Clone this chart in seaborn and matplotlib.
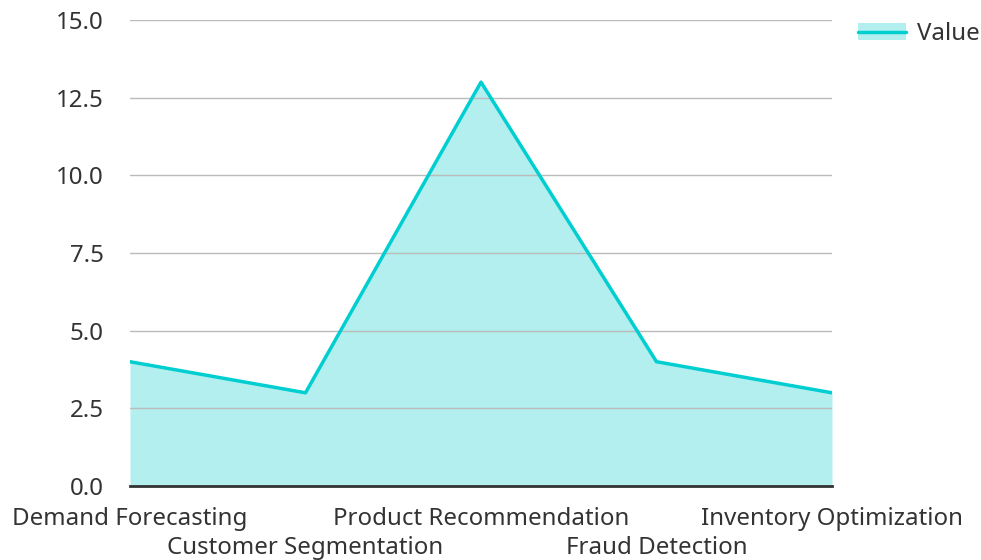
import matplotlib.pyplot as plt
import matplotlib.patches as mpatches
import matplotlib.lines as mlines
import seaborn as sns
import pandas as pd

categories = ['Demand Forecasting', 'Customer Segmentation', 'Product Recommendation',
              'Fraud Detection', 'Inventory Optimization']
values = [4, 3, 13, 4, 3]
yticks = [0, 2.5, 5, 7.5, 10, 12.5, 15]

sns.set_style('white')
plt.rcParams['font.family'] = ['Noto Sans', 'DejaVu Sans']
plt.rcParams['text.color'] = '#333333'

line_color = '#00CED1'
fill_color = '#B2EFEE'
fs = 17.3

df = pd.DataFrame({'x': range(len(categories)), 'Value': values})

fig = plt.figure(figsize=(9.81, 5.6), dpi=100)
ax = fig.add_axes([130 / 981, (560 - 486) / 560, (832 - 130) / 981, (486 - 20) / 560])

ax.fill_between(df['x'], df['Value'], color=fill_color, lw=0, zorder=1)
sns.lineplot(data=df, x='x', y='Value', ax=ax, color=line_color, lw=2.5, zorder=3)

ax.set_xlim(0, len(categories) - 1)
ax.set_ylim(0, 15)
ax.set_yticks(yticks)
ax.set_yticklabels([f'{t:.1f}' for t in yticks])
ax.set_xticks(range(len(categories)))
ax.set_xticklabels([c if i % 2 == 0 else '\n' + c for i, c in enumerate(categories)],
                   linespacing=1.3)
ax.tick_params(axis='both', length=0, labelsize=fs, colors='#333333')
ax.tick_params(axis='y', pad=19)
ax.tick_params(axis='x', pad=15)
ax.set_xlabel('')
ax.set_ylabel('')

ax.set_axisbelow('line')
ax.yaxis.grid(True, color='#bbbbbb', lw=1)
ax.xaxis.grid(False)
for s in ['top', 'right', 'left']:
    ax.spines[s].set_visible(False)
ax.spines['bottom'].set_color('#333333')
ax.spines['bottom'].set_linewidth(2)

patch = mpatches.Patch(color=fill_color, lw=0)
line = mlines.Line2D([], [], color=line_color, lw=2.5)
fig.legend([(patch, line)], ['Value'], loc='upper left', bbox_to_anchor=(851 / 981, 1 - 15 / 560),
           frameon=False, fontsize=fs, handlelength=2.0, handletextpad=0.45,
           borderaxespad=0, borderpad=0.3)

fig.savefig('out.png', dpi=100)
